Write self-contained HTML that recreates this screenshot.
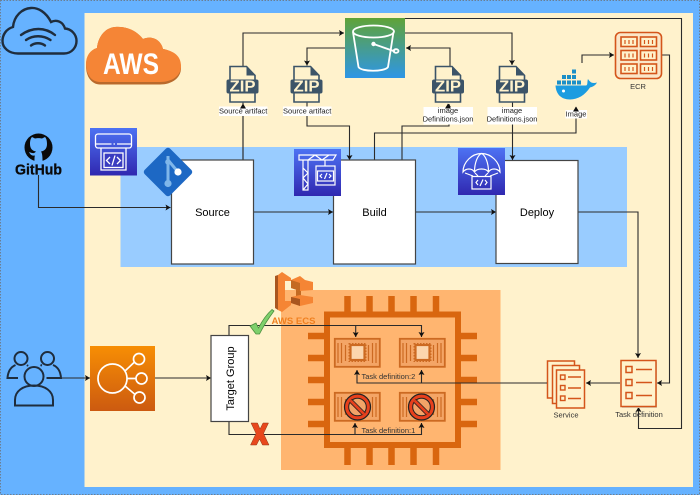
<!DOCTYPE html>
<html><head><meta charset="utf-8"><style>
html,body{margin:0;padding:0;width:700px;height:495px;overflow:hidden;background:#66b2ff}
svg{display:block}
text{font-family:"Liberation Sans",sans-serif}
</style></head><body>
<svg width="700" height="495" viewBox="0 0 700 495" xmlns="http://www.w3.org/2000/svg">
<defs>
<marker id="a" markerUnits="userSpaceOnUse" markerWidth="7" markerHeight="7" refX="5" refY="3" orient="auto"><path d="M0 0L5 3L0 6L1 3Z" fill="#111"/></marker>
<linearGradient id="blue" x1="0" y1="0" x2="0" y2="1"><stop offset="0" stop-color="#4d72f3"/><stop offset="1" stop-color="#3028b0"/></linearGradient>
<linearGradient id="s3" x1="0" y1="0" x2="0" y2="1"><stop offset="0" stop-color="#60a337"/><stop offset="1" stop-color="#2e96e6"/></linearGradient>
<linearGradient id="elb" x1="0" y1="0" x2="0" y2="1"><stop offset="0" stop-color="#f78e04"/><stop offset="1" stop-color="#cc5a10"/></linearGradient>
<g id="zip"><path d="M-12.5 0H4L12.5 9V35.5H-12.5Z" fill="#fff2cc" stroke="#3c5468" stroke-width="1.6"/><path d="M4 0L12.5 9H4Z" fill="#3c5468"/><rect x="-16" y="13" width="32" height="14" rx="2" fill="#3c5468"/></g>
<g id="inst"><rect x="0.8" y="0.8" width="45" height="28" fill="#f4a566" stroke="#cc6a22" stroke-width="1.800"/><g stroke="#cc6a22" stroke-width="1.200" fill="none"><path d="M4 5V25M7.500 5V25M11.500 7V23M34.500 7V23M38.500 5V25M42 5V25"/></g><rect x="16.500" y="7" width="14" height="15" fill="#fcd6ae" stroke="#cc6a22" stroke-width="2.200"/><rect x="15" y="5.500" width="17" height="18" fill="none" stroke="#cc6a22" stroke-width="1" stroke-dasharray="1.500 1.500"/></g>
<g id="no"><circle r="13" fill="#e8401c" stroke="#222" stroke-width="1.2"/><circle r="8.8" fill="#f2a468" stroke="#222" stroke-width="1"/><path d="M-7 -6L6 7" stroke="#e8401c" stroke-width="4"/><path d="M-6 -8L8 6M-8 -5L5 8" stroke="#222" stroke-width=".8"/></g>
</defs>

<rect width="700" height="495" fill="#66b2ff"/>
<rect x=".5" y=".5" width="699" height="494" fill="none" stroke="#6b7f93" stroke-dasharray="1.5 1.5"/>
<rect x="84.5" y="13" width="608.5" height="474" fill="#fff2cc"/>
<rect x="120.5" y="147" width="506.5" height="120" fill="#99ccff"/>
<rect x="281" y="290" width="219.5" height="180" fill="#ffb570"/>

<!-- Wifi cloud -->
<g fill="none" stroke="#1f2d3d" stroke-width="2.4" stroke-linecap="round">
<path d="M18 53.5H64C72 53.5 76.5 47 76.5 41C76.5 34 71 29 65 28.5C63 22 57 19 51 22C46 12 38 7.5 31 8C22 8.5 14 16 13 27C6 29 2.5 35 2.5 41C2.5 48 9 53.5 18 53.5Z"/>
<path d="M21 35C32 27 45 27 55 35M26 40C33 35 43 35 50.5 40M31 45.500C35 42.500 41 42.500 45 45.500"/>
</g>

<!-- AWS cloud -->
<path d="M100 84.500H160C172 84.500 181 78 181 68C181 58 174 51 163 49C161 40 152 35 143 39C136 30 125 26 115 27C104 28 98 38 97 48C90 50 86 58 86 66C86 77 92 84.500 100 84.500Z" fill="#b96a2c"/>
<path d="M100 82H160C172 82 181 76 181 66C181 56 174 51 163 49C161 40 152 35 143 39C136 30 125 26 115 27C104 28 98 38 97 48C90 50 86 56 86 64C86 75 92 82 100 82Z" fill="#f58536"/>
<text x="131" y="74" text-anchor="middle" font-size="30" font-weight="700" fill="#fff" textLength="56" lengthAdjust="spacingAndGlyphs">AWS</text>

<!-- GitHub -->
<circle cx="38.500" cy="147.500" r="14" fill="#0a0a0a"/>
<path d="M30 144C30 140 31 138 32 137L35 138.500C37 138 40 138 42 138.500L45 137C46 138 47 140 47 144C47 149 44 151 41 151.500C42 153 42.500 155 42.500 161.500H34.500C34.500 158 34.500 156.500 35 155.500C32 156 30.500 155 29 152C31 152.500 33 154 35 152.500L36 151.500C33 151 30 149 30 144Z" fill="#66b2ff"/>
<text x="38.500" y="174.500" text-anchor="middle" font-size="15" font-weight="700" fill="#0a0a0a" stroke="#0a0a0a" stroke-width=".3" textLength="47" lengthAdjust="spacingAndGlyphs">GitHub</text>

<!-- connectors -->
<g fill="none" stroke="#2b2b2b" stroke-width="1.100">
<path d="M38.500 175V207.500H170.500" marker-end="url(#a)"/>
<path d="M243 160V33H344" marker-end="url(#a)"/>
<path d="M243 160V105" marker-end="url(#a)"/>
<path d="M345 48H307V65.500" marker-end="url(#a)"/>
<path d="M307 102V126H349.500V160" marker-end="url(#a)"/>
<path d="M405 33H512V65" marker-end="url(#a)"/>
<path d="M450 66V48H406" marker-end="url(#a)"/>
<path d="M512.500 102V160" marker-end="url(#a)"/>
<path d="M402 160V126H449V104" marker-end="url(#a)"/>
<path d="M374.500 160V133H576V107" marker-end="url(#a)"/>
<path d="M582 63V55H614" marker-end="url(#a)"/>
<path d="M405 18.500H681.500V428.500H638.500V407" marker-end="url(#a)"/>
<path d="M662 55H669.500V383H657" marker-end="url(#a)"/>
<path d="M578 212H638V358" marker-end="url(#a)"/>
<path d="M620 383H586" marker-end="url(#a)"/>
<path d="M253 212H333" marker-end="url(#a)"/>
<path d="M415 212H496" marker-end="url(#a)"/>
<path d="M61 378H90" marker-end="url(#a)"/>
<path d="M155 378H211" marker-end="url(#a)"/>
</g>

<!-- stages -->
<g fill="#fff" stroke="#444" stroke-width="1.200">
<rect x="171.500" y="160" width="82" height="104"/>
<rect x="333.500" y="160" width="82" height="104"/>
<rect x="496" y="160.500" width="82" height="103"/>
</g>
<g font-size="11" text-anchor="middle" fill="#000">
<text x="212.500" y="216">Source</text>
<text x="374.500" y="216">Build</text>
<text x="537" y="216">Deploy</text>
</g>

<!-- Code icon 1 -->
<rect x="90" y="128" width="47" height="47.500" fill="url(#blue)"/>
<g fill="none" stroke="#fff" stroke-width="1.300">
<rect x="95.500" y="134" width="36" height="14" rx="2.500"/><path d="M96 144H111.500M113.500 144H115M117 144H131"/>
<path d="M101 148V170H126V148"/><rect x="104" y="153" width="19" height="14.500" fill="#3a3cc0"/>
<path d="M110 157L106.500 160.500L110 164M117 157L120.500 160.500L117 164M115 155.500L112 165.500"/>
</g>

<!-- Git -->
<rect x="150" y="154" width="36" height="36" rx="3" transform="rotate(45 168 172)" fill="#1d68c4"/>
<g fill="none" stroke="#7fb6ea" stroke-width="3"><path d="M168 156V184M168 160L178 172"/></g>
<circle cx="168" cy="183.500" r="3.600" fill="#7fb6ea"/><circle cx="178" cy="172" r="3.600" fill="#fff"/><circle cx="168" cy="162" r="2.800" fill="#7fb6ea"/>

<!-- Build icon -->
<rect x="294" y="149" width="47" height="47" fill="url(#blue)"/>
<g fill="none" stroke="#fff" stroke-width="1.200">
<path d="M299 155H336L333 160H299ZM299 155V160M303 160V190H308V160M303 168L308 173L303 178L308 184L303 190M308 160L315 155L322 160L329 155"/>
<path d="M325 160V166"/><rect x="316" y="166" width="19" height="19"/><rect x="317.500" y="171" width="16" height="10"/>
<path d="M322 174L320 176L322 178M329 174L331 176L329 178M327 173L324.500 179"/>
</g>

<!-- Deploy icon -->
<rect x="458" y="148" width="47" height="47" fill="url(#blue)"/>
<g fill="none" stroke="#fff" stroke-width="1.200">
<path d="M463 172C463 162 472 153.500 481.500 153.500C491 153.500 500 162 500 172C497 168 491 168 488.500 172C486 168 477 168 474.500 172C472 168 466 168 463 172Z"/>
<path d="M474.500 172C474.500 162 478 155 481.500 153.500C485 155 488.500 162 488.500 172"/>
<path d="M465 173L473 176M498 173L490 176M475 173L478 176M488 173L485 176"/>
<rect x="472" y="176.500" width="19" height="12.500"/>
<path d="M478 180L476 182.500L478 185M485 180L487 182.500L485 185M483 179.500L480 186"/>
</g>

<!-- S3 -->
<rect x="345" y="18" width="60" height="60" fill="url(#s3)"/>
<g fill="none" stroke="#fff" stroke-width="1.800">
<ellipse cx="373.500" cy="31.500" rx="20.500" ry="6"/>
<path d="M353 32L358.500 67C361 72 385 72 388 67L393.500 32"/>
<path d="M373.500 44L395 51.500"/>
<ellipse cx="396" cy="51" rx="2.500" ry="1.800"/>
</g>
<circle cx="373.500" cy="44" r="2.200" fill="#fff"/>

<!-- Zips -->
<use href="#zip" x="242.500" y="66.500"/><text x="242.500" y="91.500" font-size="15.500" font-weight="700" fill="#fff2cc" text-anchor="middle" textLength="26" lengthAdjust="spacingAndGlyphs">ZIP</text>
<use href="#zip" x="306.500" y="66.500"/><text x="306.500" y="91.500" font-size="15.500" font-weight="700" fill="#fff2cc" text-anchor="middle" textLength="26" lengthAdjust="spacingAndGlyphs">ZIP</text>
<use href="#zip" x="448" y="66.500"/><text x="448" y="91.500" font-size="15.500" font-weight="700" fill="#fff2cc" text-anchor="middle" textLength="26" lengthAdjust="spacingAndGlyphs">ZIP</text>
<use href="#zip" x="512" y="66.500"/><text x="512" y="91.500" font-size="15.500" font-weight="700" fill="#fff2cc" text-anchor="middle" textLength="26" lengthAdjust="spacingAndGlyphs">ZIP</text>

<g fill="#fff">
<rect x="219" y="106.500" width="48.500" height="9.500"/>
<rect x="283" y="106.500" width="48.500" height="9.500"/>
<rect x="423.500" y="107" width="49.500" height="17.500"/>
<rect x="487.500" y="107" width="49.500" height="17.500"/>
<rect x="565.500" y="110" width="21.500" height="8.500"/>
</g>
<g font-size="7.500" text-anchor="middle" fill="#222">
<text x="243.200" y="113.500">Source artifact</text>
<text x="307.200" y="113.500">Source artifact</text>
<text x="448" y="113">image</text><text x="448" y="121.500">Definitions.json</text>
<text x="512" y="113">image</text><text x="512" y="121.500">Definitions.json</text>
<text x="576" y="116.700">Image</text>
<text x="638" y="89" fill="#333">ECR</text>
<text x="566" y="417.500" fill="#333">Service</text>
<text x="639" y="417" fill="#333">Task definition</text>
</g>
<g fill="#111">
<path d="M243 103.500L246 108.500H240Z"/><path d="M448 103.500L451 108.500H445Z"/><path d="M576 106.500L579 111.500H573Z"/>
</g>

<!-- Docker -->
<path d="M555.500 85.500H586C588 85.500 587 81 588 79C590 82 592 84 597 82.500C595 86 592 87 590 87.500C585 95 578 99.500 570 99.500C561 99.500 556 94 555.500 85.500Z" fill="#1b9ce0"/>
<g fill="#1b8fc7">
<rect x="557" y="80.500" width="4" height="4"/><rect x="562" y="80.500" width="4" height="4"/><rect x="567" y="80.500" width="4" height="4"/><rect x="572" y="80.500" width="4" height="4"/><rect x="577" y="80.500" width="4" height="4"/>
<rect x="562" y="75" width="4" height="4"/><rect x="567" y="75" width="4" height="4"/><rect x="572" y="75" width="4" height="4"/>
<rect x="572" y="69.500" width="4" height="4"/>
</g>
<circle cx="563.500" cy="91" r="1.500" fill="#fff"/>

<!-- ECR -->
<rect x="615.500" y="32.500" width="46" height="46" rx="5" fill="#fbe6c8" stroke="#d4551a" stroke-width="1.600"/>
<g fill="#fff2cc" stroke="#d4551a" stroke-width="1.600">
<rect x="621" y="37" width="16" height="9.500"/><rect x="640.500" y="37" width="16" height="9.500"/>
<rect x="621" y="50.500" width="16" height="9.500"/><rect x="640.500" y="50.500" width="16" height="9.500"/>
<rect x="621" y="64" width="16" height="9.500"/><rect x="640.500" y="64" width="16" height="9.500"/>
</g>
<g stroke="#d4551a" stroke-width="1.200">
<path d="M625 40V44M629 40V44M633 40V44M644.500 40V44M648.500 40V44M652.500 40V44M625 53.500V57.500M629 53.500V57.500M633 53.500V57.500M644.500 53.500V57.500M648.500 53.500V57.500M652.500 53.500V57.500M625 67V71M629 67V71M633 67V71M644.500 67V71M648.500 67V71M652.500 67V71"/>
</g>

<!-- Task definition icon -->
<rect x="622" y="362" width="35" height="46" fill="#d8d0b4"/>
<rect x="621" y="360.500" width="35" height="46" fill="#fff2cc" stroke="#d4551a" stroke-width="1.500"/>
<g fill="none" stroke="#d4551a" stroke-width="1.500">
<rect x="626" y="366.500" width="6" height="6"/><rect x="626" y="379.500" width="6" height="6"/><rect x="626" y="392.500" width="6" height="6"/>
<path d="M636 369.500H652M636 382.500H652M636 395.500H652"/>
</g>

<!-- Service icon -->
<g fill="#fff2cc" stroke="#d4551a" stroke-width="1.500">
<rect x="547.500" y="361" width="27" height="37"/>
<rect x="552.500" y="365.500" width="27" height="38"/>
<rect x="556.500" y="370" width="28" height="38"/>
</g>
<g fill="none" stroke="#d4551a" stroke-width="1.400">
<rect x="560.500" y="375" width="4.500" height="4.500"/><rect x="560.500" y="385.500" width="4.500" height="4.500"/><rect x="560.500" y="396" width="4.500" height="4.500"/>
<path d="M568 377H581M568 388H581M568 398.500H581"/>
</g>

<!-- Chip -->
<rect x="327" y="314.500" width="131" height="130.500" fill="none" stroke="#d9660f" stroke-width="6"/>
<g stroke="#d9660f" stroke-width="6.500">
<path d="M347.500 296V312M369.500 296V312M391.500 296V312M413.500 296V312M436 296V312"/>
<path d="M347.500 447V465M369.500 447V465M391.500 447V465M413.500 447V465M436 447V465"/>
<path d="M308 336H324M308 358H324M308 380H324M308 402H324M308 424H324"/>
<path d="M461 336H477M461 358H477M461 380H477M461 402H477M461 424H477"/>
</g>
<use href="#inst" x="334" y="338"/><use href="#inst" x="399" y="338"/>
<use href="#inst" x="334" y="392"/><use href="#inst" x="399" y="392"/>
<use href="#no" x="357.500" y="407"/><use href="#no" x="421.500" y="407"/>
<g font-size="7.500" fill="#333">
<text x="361.500" y="379">Task definition:2</text>
<text x="361.500" y="433">Task definition:1</text>
</g>

<!-- ECS connectors -->
<g fill="none" stroke="#2b2b2b" stroke-width="1.100">
<path d="M547 383H357V370" marker-end="url(#a)"/>
<path d="M421.500 383V370" marker-end="url(#a)"/>
<path d="M229 335V325.500H421.500V337" marker-end="url(#a)"/>
<path d="M355.700 325.500V337" marker-end="url(#a)"/>
<path d="M229 421V434.500H421.500V423" marker-end="url(#a)"/>
<path d="M355 434.500V423" marker-end="url(#a)"/>
</g>

<!-- Target Group -->
<rect x="211" y="335.500" width="37.500" height="86" fill="#fff" stroke="#444" stroke-width="1.200"/>
<text transform="translate(234 378.500) rotate(-90)" text-anchor="middle" font-size="11" fill="#000">Target Group</text>

<!-- ELB -->
<rect x="90" y="346" width="65" height="65" fill="url(#elb)"/>
<g fill="none" stroke="#fff" stroke-width="1.700">
<circle cx="112.500" cy="378.500" r="14.500"/>
<circle cx="139" cy="359" r="5.500"/><circle cx="141.500" cy="378.500" r="5.500"/><circle cx="139.500" cy="397.500" r="5.500"/>
<path d="M125 371L134 362.500M127 378.500H136M125 386L134.500 394"/>
</g>

<!-- Users -->
<g fill="none" stroke="#1f2d3d" stroke-width="2">
<circle cx="21" cy="358.500" r="6.500"/><circle cx="47.500" cy="358.500" r="6.500"/>
<path d="M18 378H7.500C8 371 11 367 15.500 365M27 365L28 366"/>
<path d="M40.500 365L42 365.500M53 365C58 367 60.500 371 61 378H46.500"/>
<circle cx="34" cy="376.500" r="9.500"/>
<path d="M15 405.500V400C15 391 23 385.500 34 385.500C45 385.500 53 391 53 400V405.500Z"/>
</g>

<!-- ECS logo -->
<path d="M275 276L278 275V310L275 308Z" fill="#a9561f"/>
<path d="M282 272L291 278V281H285V301H291V305L282 312L278 310V275Z" fill="#f58534"/>
<rect x="296" y="288" width="5" height="8" fill="#c46a22"/>
<path d="M291 280L300 276L305 280L313 282V290L300 291L291 288Z" fill="#f58534"/>
<path d="M291 280L300 283V291L291 288Z" fill="#c46a22"/>
<path d="M291 297L300 295L313 297V303L300 306L291 303Z" fill="#f58534"/>
<path d="M291 297L300 299V306L291 303Z" fill="#a9561f"/>
<text x="271.500" y="324" font-size="9.500" font-weight="700" fill="#f08020" textLength="44" lengthAdjust="spacingAndGlyphs">AWS ECS</text>

<!-- check and X -->
<path d="M250 326L256 323L258.500 328C262 321 267 314 272 309.500L274 311C268 319 263 327 259.500 334H256Z" fill="#7ed06c" stroke="#4c8f3f" stroke-width=".8"/>
<path d="M251 423H257.500L260 429L263 423H268.500L263.500 433.500L269 445H262.500L259.500 439L256.500 445H250.500L256 433.500Z" fill="#e8481c" stroke="#8c3a1a" stroke-width=".5"/>
</svg>
</body></html>
